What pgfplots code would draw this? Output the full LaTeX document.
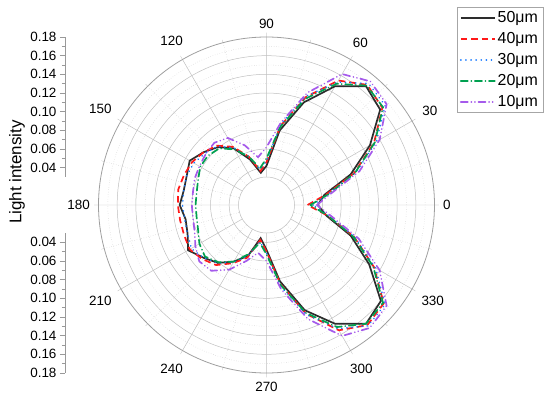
\documentclass[border=0pt]{standalone}
\usepackage{fontspec}
\setmainfont{Liberation Sans}
\usepackage{pgfplots}
\usepackage{pgfplotstable}
\pgfplotsset{compat=1.18}
\usepgfplotslibrary{polar}
\definecolor{c50}{RGB}{45,45,45}
\definecolor{c40}{RGB}{255,25,25}
\definecolor{c30}{RGB}{20,120,255}
\definecolor{c20}{RGB}{0,160,80}
\definecolor{c10}{RGB}{165,90,235}
\pgfplotstableread{
ang b50 r40 u30 g20 p10
0 .055 .044 .050 .047 .054
10 .063 .065 .067 .068 .070
20 .096 .100 .102 .101 .106
30 .128 .133 .136 .134 .140
40 .159 .162 .166 .163 .168
50 .166 .168 .170 .167 .173
60 .147 .154 .152 .150 .162
70 .117 .123 .124 .121 .128
80 .081 .086 .088 .085 .090
90 .042 .046 .047 .050 .062
100 .035 .037 .039 .040 .052
110 .052 .055 .055 .055 .068
120 .070 .072 .071 .069 .083
130 .081 .083 .082 .079 .087
140 .088 .088 .086 .082 .085
150 .095 .092 .090 .082 .083
160 .091 .094 .091 .078 .082
170 .090 .096 .090 .076 .080
180 .093 .095 .090 .076 .080
190 .088 .094 .089 .076 .080
200 .090 .094 .090 .078 .082
210 .097 .095 .093 .083 .088
220 .088 .090 .088 .086 .094
230 .081 .084 .081 .080 .092
240 .070 .072 .071 .070 .080
250 .058 .060 .058 .056 .064
260 .036 .038 .040 .041 .052
270 .048 .050 .052 .053 .060
280 .083 .086 .089 .087 .092
290 .120 .124 .125 .123 .130
300 .147 .155 .153 .151 .162
310 .166 .168 .169 .166 .172
320 .160 .164 .166 .163 .168
330 .127 .133 .135 .132 .140
340 .096 .100 .101 .099 .105
350 .065 .067 .068 .067 .071
360 .055 .044 .050 .047 .054
}\datatab
\begin{document}
\begin{tikzpicture}
\useasboundingbox (0,0) rectangle (550bp,401bp);
\begin{polaraxis}[
  width=336bp, height=336bp, scale only axis,
  at={(266.5bp,196bp)}, anchor=center,
  xmin=0, xmax=360, ymin=0, ymax=0.18,
  xtick={0,30,...,330}, minor xtick={15,45,...,345},
  xticklabel={\pgfmathprintnumber[assume math mode=true]{\tick}},
  xticklabel style={font=\fontsize{13.5}{14}\selectfont, inner sep=8.5pt},
  ytick={0.04,0.06,0.08,0.10,0.12,0.14,0.16},
  minor ytick={0.05,0.07,0.09,0.11,0.13,0.15,0.17},
  yticklabels={}, ytick style={draw=none}, minor y tick style={draw=none},
  xtick style={gray!70},
  grid=both,
  major grid style={gray!50, line width=0.5pt},
  minor grid style={gray!45, dotted, line width=0.5pt},
  axis line style={gray!75, line width=0.8pt},
  y axis line style={draw=none},
  legend style={at={(1.323,1.089)}, anchor=north east, draw=gray!70,
    font=\fontsize{16}{18}\selectfont, inner xsep=3pt, inner ysep=2.5pt, row sep=4.3pt},
  legend cell align=left,
  legend image code/.code={\draw[#1] (0bp,0bp) -- (34bp,0bp);},
  every axis plot/.append style={line width=1.7bp},
]
\draw[gray!50, line width=0.5pt, fill=white] (axis cs:0,0) circle[radius=28bp];
\addplot[c50, no marks] table[x=ang, y=b50] {\datatab};
\addlegendentry{50μm}
\addplot[c40, no marks, dash pattern=on 6.5bp off 4bp] table[x=ang, y=r40] {\datatab};
\addlegendentry{40μm}
\addplot[c30, no marks, line cap=round, dash pattern=on 0.1bp off 5bp] table[x=ang, y=u30] {\datatab};
\addlegendentry{30μm}
\addplot[c20, no marks, line cap=round, dash pattern=on 7bp off 3.5bp on 0.1bp off 3.5bp] table[x=ang, y=g20] {\datatab};
\addlegendentry{20μm}
\addplot[c10, no marks, line cap=round, dash pattern=on 7bp off 3.5bp on 0.1bp off 3.5bp on 0.1bp off 3.5bp] table[x=ang, y=p10] {\datatab};
\addlegendentry{10μm}
\end{polaraxis}
% upper radial scale
\begin{axis}[
  scale only axis, width=1bp, height=140bp,
  at={(65bp,224bp)}, anchor=south west,
  ymin=0.03, ymax=0.18, xmin=0, xmax=1,
  axis y line=left, axis x line=none,
  y axis line style={-, gray!80, line width=0.8pt},
  ytick={0.04,0.06,0.08,0.10,0.12,0.14,0.16,0.18},
  minor ytick={0.05,0.07,0.09,0.11,0.13,0.15,0.17},
  tick align=outside, major tick length=5bp, minor tick length=3bp,
  ytick style={gray!80, line width=0.6pt},
  yticklabel style={font=\fontsize{13.5}{14}\selectfont, /pgf/number format/.cd, fixed, fixed zerofill, precision=2, assume math mode=true},
]
\end{axis}
% lower radial scale
\begin{axis}[
  scale only axis, width=1bp, height=140bp,
  at={(65bp,168bp)}, anchor=north west,
  ymin=0.03, ymax=0.18, xmin=0, xmax=1, y dir=reverse,
  axis y line=left, axis x line=none,
  y axis line style={-, gray!80, line width=0.8pt},
  ytick={0.04,0.06,0.08,0.10,0.12,0.14,0.16,0.18},
  minor ytick={0.05,0.07,0.09,0.11,0.13,0.15,0.17},
  tick align=outside, major tick length=5bp, minor tick length=3bp,
  ytick style={gray!80, line width=0.6pt},
  yticklabel style={font=\fontsize{13.5}{14}\selectfont, /pgf/number format/.cd, fixed, fixed zerofill, precision=2, assume math mode=true},
]
\end{axis}
\node[rotate=90, font=\fontsize{17}{18}\selectfont] at (17bp,229bp) {Light intensity};
\end{tikzpicture}
\end{document}
